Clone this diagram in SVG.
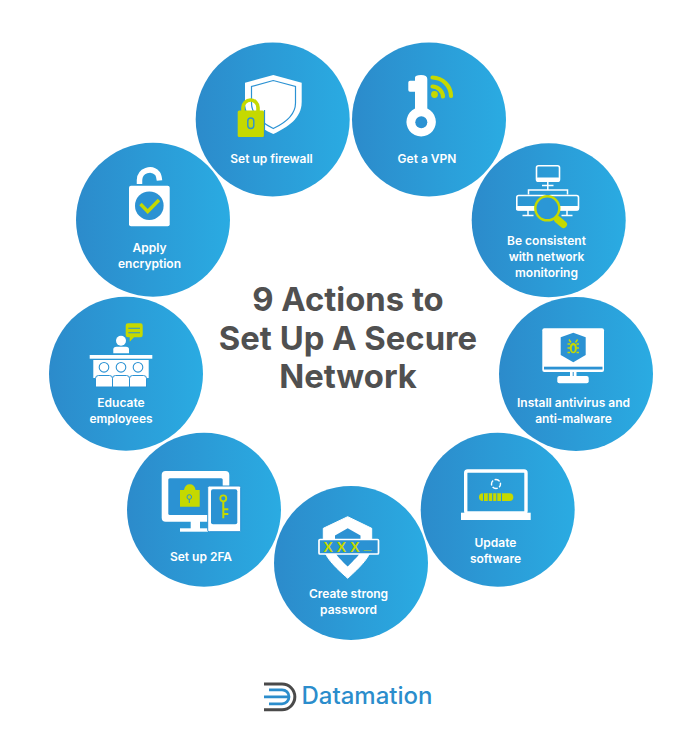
<svg xmlns="http://www.w3.org/2000/svg" width="696" height="750" viewBox="0 0 696 750">
<defs>
<linearGradient id="g" x1="0" y1="0" x2="1" y2="0"><stop offset="0" stop-color="#2c8bcb"/><stop offset="1" stop-color="#2aabe2"/></linearGradient>
<style>
.c{fill:url(#g)}
.l{font-family:"Inter","Liberation Sans",sans-serif;font-weight:600;font-size:12px;fill:#fff;text-anchor:middle}
.t{font-family:"Inter","Liberation Sans",sans-serif;font-weight:700;font-size:32.8px;fill:#505050;text-anchor:middle}
.w{fill:#fff}.b{fill:#2b92d3}.y{fill:#c5d900}
.sw{fill:none;stroke:#fff}.sy{fill:none;stroke:#c5d900}.sb{fill:none;stroke:#2b92d3}
</style>
</defs>
<rect width="696" height="750" fill="#fff"/>
<g id="title"><text class="t" x="348" y="311">9 Actions to</text><text class="t" x="348" y="350">Set Up A Secure</text><text class="t" x="348" y="388">Network</text></g>

<g id="firewall"><circle class="c" cx="272.7" cy="119.5" r="77"/>
<path class="w" d="M273.3 75L245 82.700V102C245 118 258 127 273.300 134C288 127 301.700 118 301.700 102V82.700Z"/>
<path class="sb" stroke-width="1.200" d="M273.300 80.500L251.500 86.500V103C251.500 115 262 123 273.300 128.500C285 123 295.500 115 295.500 103V86.500Z"/>
<rect class="y" x="237.700" y="110.500" width="26.300" height="26.500" rx="1.500"/>
<path d="M264.500 110V137.500" stroke="#2b92d3" stroke-width="1.200"/>
<path class="sy" stroke-width="3.600" d="M243 111V107.500A7.500 7.500 0 0 1 258 107.500V111"/>
<rect class="sb" x="247.800" y="118" width="6" height="10.500" rx="3" stroke-width="1.400"/>
<text class="l" x="271.500" y="163">Set up firewall</text></g>

<g id="vpn"><circle class="c" cx="429" cy="119.500" r="77"/>
<path class="w" d="M415 77.500Q415 75 421 75Q427.300 75 427.300 79V108.500A14.700 14.700 0 1 1 415 108.500V91.700H410Q408.300 91.700 408.300 90V82.500Q408.300 80.700 410 80.700H415Z"/>
<circle class="b" cx="421.300" cy="122.300" r="6"/>
<path class="sy" stroke-width="4.200" stroke-linecap="round" d="M432.500 77.500A19 19 0 0 1 451 96M432.500 86.500A11 11 0 0 1 443 96.500"/>
<circle class="y" cx="434.500" cy="94.500" r="3.400"/>
<text class="l" x="427" y="163">Get a VPN</text></g>

<g id="monitoring"><circle class="c" cx="548.700" cy="220.300" r="77"/>
<rect class="sw" x="536.500" y="165.700" width="23" height="15.500" rx="2" stroke-width="1.600"/>
<rect class="w" x="536" y="177.500" width="24" height="4" rx="1.500"/>
<path class="sw" stroke-width="1.500" d="M547.800 181V190M542 185.500H553.500M528.500 194.500V190H567.500V194.500"/>
<rect class="sw" x="516.800" y="195.500" width="30" height="14.500" rx="2" stroke-width="1.600"/>
<rect class="sw" x="549" y="195.500" width="29.500" height="14.500" rx="2" stroke-width="1.600"/>
<rect class="w" x="516" y="206" width="63" height="4.500" rx="1.500"/>
<path class="sw" stroke-width="1.500" d="M528 210V215M522.500 215.500H533.500M567 210V215M561.500 215.500H572.500"/>
<circle cx="547.300" cy="208.300" r="12" fill="#2b97d6" stroke="#c5d900" stroke-width="2.400"/>
<path class="sy" stroke-width="7" stroke-linecap="round" d="M557.500 219.500L563.500 224.500"/>
<text class="l"><tspan x="546.500" y="245">Be consistent</tspan><tspan x="546.500" y="261">with network</tspan><tspan x="546.500" y="277">monitoring</tspan></text></g>

<g id="antivirus"><circle class="c" cx="576" cy="374" r="77"/>
<rect class="w" x="542.300" y="328.300" width="61.700" height="43.700" rx="2"/>
<rect class="b" x="544" y="366.700" width="58.500" height="2.800"/>
<rect class="w" x="570" y="371" width="6.500" height="6"/><path d="M573.200 372V376" stroke="#2b92d3" stroke-width="1"/>
<rect class="w" x="557.300" y="376" width="31.400" height="7.300" rx="2"/>
<path class="b" d="M573.300 332.700L585.700 337.300V355L573.300 362.300L560.700 355V337.300Z"/>
<ellipse class="y" cx="573.300" cy="348" rx="3.600" ry="5.200"/>
<ellipse class="b" cx="573.300" cy="348.500" rx="1.500" ry="3.200"/>
<path class="sy" stroke-width="1.400" d="M569 339.500L571 342.500M577.600 339.500L575.500 342.500M567.500 344H570M579 344H576.500M567.500 348H570M579 348H576.500M567.500 352.500H570M579 352.500H576.500"/>
<text class="l"><tspan x="573.500" y="407">Install antivirus and</tspan><tspan x="573.500" y="423">anti-malware</tspan></text></g>

<g id="update"><circle class="c" cx="497.700" cy="509.700" r="77"/>
<rect class="sw" x="465.700" y="471" width="60.300" height="42" rx="2" stroke-width="3.400"/>
<rect class="w" x="461" y="512.700" width="69.700" height="7.300"/>
<circle class="sw" cx="496" cy="484" r="4.500" stroke-width="1.400" stroke-dasharray="5.500 1.570" stroke-dashoffset="2"/>
<rect class="y" x="479" y="493.300" width="34.300" height="7.700" rx="3.800"/>
<path class="sb" stroke-width="1" d="M483.500 493.300V501M488.300 493.300V501M492.700 493.300V501M496.800 493.300V501M501.500 493.300V501"/>
<text class="l"><tspan x="495.500" y="546.700">Update</tspan><tspan x="495.500" y="562.700">software</tspan></text></g>

<g id="password"><circle class="c" cx="351" cy="563" r="77"/>
<path class="w" d="M347.700 516.700L323.300 528.300V545C323.300 556 335 567 347.700 578.300C360 567 371.700 556 371.700 545V528.300Z" stroke="#fff" stroke-linejoin="round" stroke-width="1"/>
<path class="b" d="M347.700 528.300L335 535.500V552C336 555 341 560 347.700 566.500C354 560 359.500 555 360.500 552V535.500Z"/>
<rect class="b" x="319" y="539.500" width="59.500" height="14.500" stroke="#fff" stroke-width="1.700" rx="1"/>
<text x="323.500" y="551.500" font-family="Liberation Sans,sans-serif" font-weight="700" font-size="14" letter-spacing="4" fill="#c5d900">XXX<tspan dy="-2.500">_</tspan></text>
<text class="l"><tspan x="348.500" y="598">Create strong</tspan><tspan x="348.500" y="614">password</tspan></text></g>

<g id="twofa"><circle class="c" cx="204" cy="509.700" r="77"/>
<rect class="w" x="161.700" y="471" width="67.600" height="50.700" rx="4"/>
<rect class="b" x="168.300" y="478.300" width="54.400" height="36.700" rx="1.500"/>
<rect class="w" x="190.700" y="521" width="9.300" height="8"/>
<rect class="w" x="180" y="528.300" width="28" height="3.400"/>
<path class="y" d="M180 490H184Q185 484.300 189.800 484.300Q194.600 484.300 195.600 490H199.700V506.700H180Z"/>
<circle class="sb" cx="189.300" cy="497" r="2.300" stroke-width="1"/><path d="M189.300 499V503" stroke="#2b92d3" stroke-width="1"/>
<rect class="w" x="207.700" y="486" width="33" height="45.700" rx="1.500" stroke="#2b92d3" stroke-width="1"/>
<rect class="b" x="211" y="489.300" width="26.300" height="35" rx="2"/>
<circle class="sy" cx="223.300" cy="498.300" r="3" stroke-width="1.800"/>
<path class="sy" stroke-width="2" d="M223.300 501V518.300M223.300 509.300H228.300M223.300 514H228.300"/>
<text class="l" x="201" y="560.700">Set up 2FA</text></g>

<g id="educate"><circle class="c" cx="126" cy="373.700" r="77"/>
<path class="y" d="M128 323.300H140.500Q142.700 323.300 142.700 325.500V335Q142.700 337.300 140.500 337.300H134L129.700 341.700V337.300H128Q125.700 337.300 125.700 335V325.500Q125.700 323.300 128 323.300Z"/>
<path class="sb" stroke-width="1.100" d="M128.300 328.300H140M128.300 332.700H140"/>
<circle class="w" cx="121" cy="340.700" r="5"/>
<path class="w" d="M113.300 353.300V349.500Q113.300 346.700 116.500 346.700H126Q129 346.700 129 349.500V353.300Z"/>
<rect class="w" x="89.700" y="355" width="62.600" height="3.700"/>
<path class="w" d="M93.300 360H148.700V378H93.300Z"/>
<g class="sb" stroke-width="1.100"><circle cx="104" cy="367.300" r="4.800"/><circle cx="121" cy="367.300" r="4.800"/><circle cx="138" cy="367.300" r="4.800"/></g>
<g class="w" stroke="#2b92d3" stroke-width="1"><path d="M95.500 387V378.500Q95.500 375.500 98.500 375.500H109.500Q112.500 375.500 112.500 378.500V387Z"/><path d="M112.500 387V378.500Q112.500 375.500 115.500 375.500H126.500Q129.500 375.500 129.500 378.500V387Z"/><path d="M129.500 387V378.500Q129.500 375.500 132.500 375.500H143.500Q146.500 375.500 146.500 378.500V387Z"/></g>
<text class="l"><tspan x="121" y="407">Educate</tspan><tspan x="121" y="423">employees</tspan></text></g>

<g id="encryption"><circle class="c" cx="153" cy="219.700" r="77"/>
<path class="sw" stroke-width="5.500" d="M139.500 184V180A10.300 10.300 0 0 1 157.500 173.500Q159 175.500 159.500 180.500"/>
<rect class="w" x="129" y="185.700" width="40.700" height="40.600" rx="2"/>
<circle class="b" cx="149.300" cy="205.700" r="14.300"/>
<path class="sy" stroke-width="3.400" d="M140.500 204L147.700 211.500L159 200"/>
<text class="l"><tspan x="149.500" y="251.700">Apply</tspan><tspan x="149.500" y="267.500">encryption</tspan></text></g>

<g id="logo">
<path fill="none" stroke="#4a4a4a" stroke-width="3" d="M264 684H282A12.800 12.800 0 0 1 282 709.700H264"/>
<path fill="none" stroke="#2b8dcc" stroke-width="2.800" d="M269 689.800H282A7 7 0 0 1 282 703.800H269M264 696.800H288"/>
<text x="301.500" y="703.500" font-family="Inter,Liberation Sans,sans-serif" font-weight="500" font-size="24" fill="#2b8dcc">Datamation</text>
</g>
</svg>
